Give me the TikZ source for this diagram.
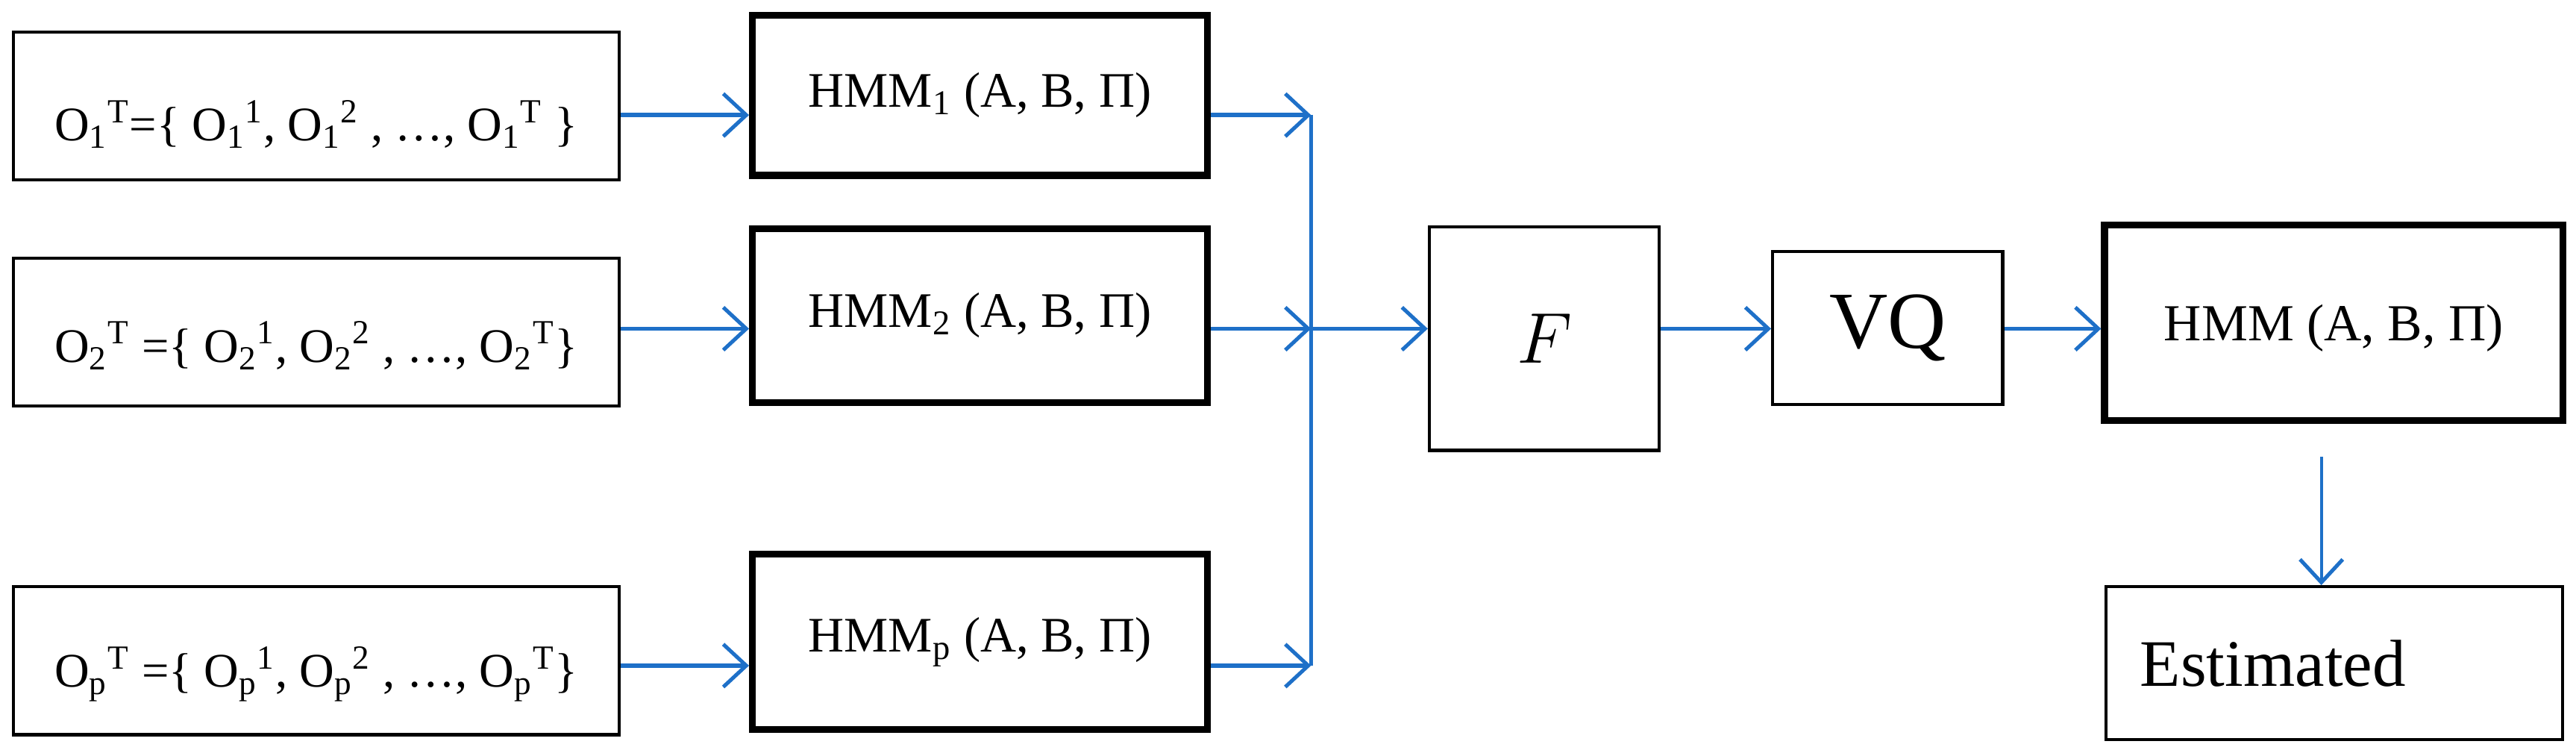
\documentclass[tikz,border=0pt]{standalone}
\usepackage{fontspec}
\setmainfont{Liberation Serif}
\usetikzlibrary{arrows.meta}
\definecolor{flowblue}{RGB}{30,112,200}
\begin{document}
\begin{tikzpicture}[x=0.02cm,y=-0.02cm,
  obs/.style={draw,line width=1.1pt,minimum width=7.38cm,minimum height=1.8cm,font=\fontsize{16.7}{18}\selectfont},
  hmm/.style={draw,line width=2.4pt,minimum width=5.54cm,minimum height=2cm,font=\fontsize{17.2}{19}\selectfont},
  blk/.style={draw,line width=1.1pt},
  flow/.style={flowblue,line width=1.4pt,-{Straight Barb[length=0.28cm,width=0.52cm,line width=1.3pt]}}]
\useasboundingbox (0,0) rectangle (1568,458);
\node[obs] (o1) at (192.5,64.5) {\raisebox{-1.6em}{O\textsubscript{1}\textsuperscript{T}=\{ O\textsubscript{1}\textsuperscript{1}, O\textsubscript{1}\textsuperscript{2} , \dots, O\textsubscript{1}\textsuperscript{T} \}}};
\node[obs] (o2) at (192.5,202) {\raisebox{-1.4em}{O\textsubscript{2}\textsuperscript{T} =\{ O\textsubscript{2}\textsuperscript{1}, O\textsubscript{2}\textsuperscript{2} , \dots, O\textsubscript{2}\textsuperscript{T}\}}};
\node[obs] (op) at (192.5,402) {\raisebox{-1.4em}{O\textsubscript{p}\textsuperscript{T} =\{ O\textsubscript{p}\textsuperscript{1}, O\textsubscript{p}\textsuperscript{2} , \dots, O\textsubscript{p}\textsuperscript{T}\}}};
\node[hmm,minimum height=1.95cm] (h1) at (596.5,58) {\raisebox{-0.6em}{HMM\textsubscript{1} (A, B, Π)}};
\node[hmm,minimum height=2.12cm] (h2) at (596.5,192) {\raisebox{-0.3em}{HMM\textsubscript{2} (A, B, Π)}};
\node[hmm,minimum height=2.14cm] (hp) at (596.5,390.5) {\raisebox{-0.4em}{HMM\textsubscript{p} (A, B, Π)}};
\node[blk,minimum width=2.8cm,minimum height=2.72cm,font=\fontsize{30}{32}\selectfont\itshape] (f) at (940,206) {\raisebox{-0.3em}{$F$}};
\node[blk,minimum width=2.8cm,minimum height=1.86cm,font=\fontsize{28}{30}\selectfont] (vq) at (1149,199.5) {VQ};
\node[hmm,minimum width=5.58cm,minimum height=2.38cm,font=\fontsize{18}{20}\selectfont] (h) at (1420.5,196.5) {\raisebox{-0.9em}{HMM (A, B, Π)}};
\node[blk,minimum width=5.56cm,minimum height=1.86cm,font=\fontsize{23}{25}\selectfont] (est) at (1421,403.5) {\hspace*{-1.5cm}\raisebox{-0.3em}{Estimated}};
\coordinate (j1) at (798,70);
\coordinate (j2) at (798,200);
\coordinate (jp) at (798,405);
\coordinate (hout) at (1413,278);
\draw[flow] (o1.east |- j1) -- (h1.west |- j1);
\draw[flow] (o2.east |- j2) -- (h2.west |- j2);
\draw[flow] (op.east |- jp) -- (hp.west |- jp);
\draw[flow] (h1.east |- j1) -- (j1);
\draw[flow] (h2.east |- j2) -- (j2);
\draw[flow] (hp.east |- jp) -- (jp);
\draw[flowblue,line width=1.4pt] (j1) -- (jp);
\draw[flow] (j2) -- (f.west |- j2);
\draw[flow] (f.east |- j2) -- (vq.west |- j2);
\draw[flow] (vq.east |- j2) -- (h.west |- j2);
\draw[flow,line width=1.1pt] (hout) -- (est.north -| hout);
\end{tikzpicture}
\end{document}
